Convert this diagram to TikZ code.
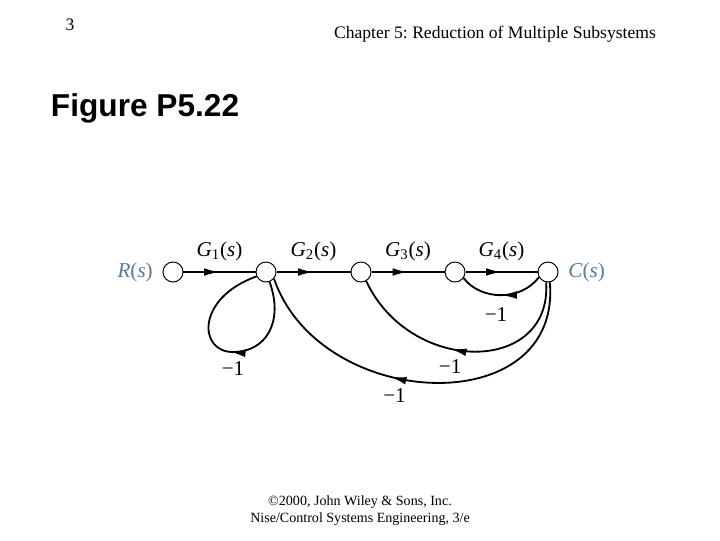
\documentclass[tikz,border=0pt]{standalone}
\usepackage{fontspec}
\setmainfont{Liberation Serif}
\newfontfamily\arialfont{Liberation Sans}
\usetikzlibrary{positioning,arrows.meta,decorations.markings}
\definecolor{sigblue}{RGB}{84,124,150}
\frenchspacing

\begin{document}
\begin{tikzpicture}[x=0.025cm, y=-0.025cm,
  sig/.style={circle, draw, line width=0.7pt, minimum size=0.5cm, inner sep=0pt},
  branch/.style={line width=1.3pt, postaction={decorate},
    decoration={markings, mark=at position #1 with {\arrow{Latex[length=11pt,width=5.5pt]}}}},
  branch/.default=0.5,
  gain/.style={font=\fontsize{15}{18}\selectfont}]
\useasboundingbox (0,0) rectangle (720,540);
\node[font=\fontsize{12.5}{14}\selectfont] (pagenum) at (70,25) {3};
\node[font=\fontsize{12.5}{14}\selectfont] (chapter) at (495,34) {Chapter 5: Reduction of Multiple Subsystems};
\node[font=\arialfont\bfseries\fontsize{22.5}{26}\selectfont, anchor=west] (figtitle) at (46,108) {Figure P5.22};

\node[sig] (r) at (173,272) {};
\node[sig] (a) at (266,272) {};
\node[sig] (b) at (361,272) {};
\node[sig] (c) at (455,272) {};
\node[sig] (y) at (548,272) {};
\node[gain, text=sigblue, left=0.12cm of r] (rlabel) {\textit{R}(\textit{s})};
\node[gain, text=sigblue, right=0.12cm of y] (ylabel) {\textit{C}(\textit{s})};
\coordinate (loopbot) at (233,352);

\draw[branch] (r) -- node[above=4pt, gain] {\textit{G}\textsubscript{1}(\textit{s})} (a);
\draw[branch] (a) -- node[above=4pt, gain] {\textit{G}\textsubscript{2}(\textit{s})} (b);
\draw[branch] (b) -- node[above=4pt, gain] {\textit{G}\textsubscript{3}(\textit{s})} (c);
\draw[branch] (c) -- node[above=4pt, gain] {\textit{G}\textsubscript{4}(\textit{s})} (y);

\draw[branch=0.47] (a.-70) .. controls (284,322) and (266,352) .. (loopbot)
  .. controls (198,352) and (196,298) .. (a.-155);
\node[gain, below=3pt of loopbot] (g5) {−1};
\draw[branch=0.5] (y.-150) .. controls (520,302) and (480,300) .. node[pos=0.55, below=5pt, gain] {−1} (c.-35);
\draw[branch=0.55] (y.-100) .. controls (552,375) and (410,375) .. node[pos=0.6, below=4pt, gain] {−1} (b.-60);
\draw[branch=0.58] (y.-80) .. controls (562,422) and (320,412) .. node[pos=0.6, below=4pt, gain] {−1} (a.-40);

\node[align=center, font=\fontsize{10}{12}\selectfont] (footer) at (360,511) {©2000, John Wiley \& Sons, Inc.\\Nise/Control Systems Engineering, 3/e};
\end{tikzpicture}
\end{document}
